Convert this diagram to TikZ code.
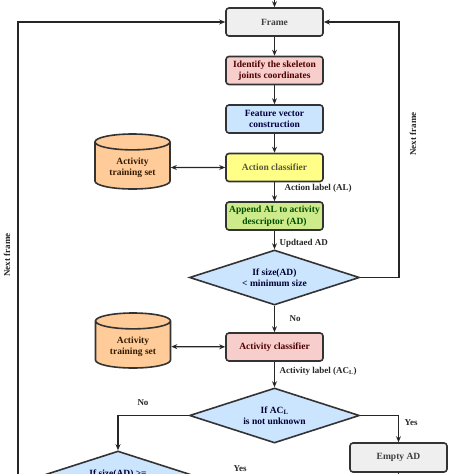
\documentclass[tikz,border=0pt]{standalone}
\usepackage{fontspec}
\setmainfont{Liberation Serif}
\usepackage{tikz}
\usetikzlibrary{arrows.meta, positioning, shapes.geometric}

\definecolor{framegray}{HTML}{EFEFEF}
\definecolor{idpink}{HTML}{F8CECC}
\definecolor{featblue}{HTML}{CCE5FF}
\definecolor{actyellow}{HTML}{FFFF88}
\definecolor{appgreen}{HTML}{CDEB8B}
\definecolor{dbor}{HTML}{FFCC99}
\definecolor{edgegray}{HTML}{333333}

\tikzset{
    box/.style={draw=edgegray, line width=1.6pt, rounded corners=3pt, minimum width=97pt, minimum height=28pt, align=center, inner sep=1pt},
    decision/.style={draw=edgegray, line width=1.6pt, diamond, aspect=3.1, minimum width=170pt, minimum height=55pt, inner sep=0pt, align=center, fill=featblue, text=black!80!blue},
    database/.style={draw=edgegray, line width=1.6pt, cylinder, shape border rotate=90, aspect=0.3, minimum width=75pt, minimum height=55pt, align=center, fill=dbor, text=black!80!orange},
    flow/.style={-{Stealth[length=6pt, width=5pt]}, line width=1.2pt, draw=black!85},
    lbl/.style={font=\fontsize{9}{11}\selectfont\bfseries, text=black!85}
}

\begin{document}
\begin{tikzpicture}[x=1pt, y=-1pt, font=\fontsize{9.5}{11.5}\selectfont\bfseries]
    \useasboundingbox (0,0) rectangle (474,474);
    \clip (0,0) rectangle (474,474);

    % main column
    \node[box, fill=framegray, text=black!75] (frame) at (274.5,22) {Frame};
    \node[box, fill=idpink, text=black!70!red] (ident) at (274.5,70.5) {Identify the skeleton\\joints coordinates};
    \node[box, fill=featblue, text=black!75!blue] (feat) at (274.5,119) {Feature vector\\construction};
    \node[box, fill=actyellow, text=black!75!yellow] (action) at (274.5,167.5) {Action classifier};
    \node[box, fill=appgreen, text=black!70!green] (append) at (274.5,216) {Append AL to activity\\descriptor (AD)};
    \node[decision] (size1) at (274.5,277.5) {If size(AD)\\< minimum size};
    \node[box, fill=idpink, text=black!70!red] (activity) at (274.5,347) {Activity classifier};
    \node[decision] (unknown) at (274.5,415.5) {If AC\textsubscript{L}\\is not unknown};
    \node[box, fill=framegray, text=black!75, minimum height=29pt] (empty) at (398.5,457.5) {Empty AD};
    \node[decision] (size2) at (118,478.5) {If size(AD) >=\\minimum size};

    % training sets
    \node[database] (train1) at (132.5,167.5) {Activity\\training set};
    \node[database] (train2) at (133,346.5) {Activity\\training set};

    % free ends
    \coordinate (top) at (274.5,-2);
    \coordinate (leftin) at (18,480);
    \coordinate (emptyout) at (398.5,480);

    % arrows down the column
    \draw[flow] (top) -- (frame);
    \foreach \a/\b in {frame/ident, ident/feat, feat/action, action/append, append/size1, size1/activity, activity/unknown} {
        \draw[flow] (\a) -- (\b);
    }
    \draw[line width=1.2pt, draw=black!85] (empty) -- (emptyout);

    % database links
    \draw[{Stealth[length=6pt, width=5pt]}-{Stealth[length=6pt, width=5pt]}, line width=1.2pt, draw=black!85] (train1) -- (action);
    \draw[{Stealth[length=6pt, width=5pt]}-{Stealth[length=6pt, width=5pt]}, line width=1.2pt, draw=black!85] (train2) -- (activity);

    % loops
    \draw[flow] (size1.east) -| (399,40) |- (frame.east);
    \draw[flow] (leftin) |- (frame.west);
    \draw[flow] (unknown.west) -| (size2.north);
    \draw[flow] (unknown.east) -| (empty.north);

    % labels
    \node[lbl, anchor=west] (lal) at (281,188) {Action label (AL)};
    \node[lbl, anchor=west] (lupd) at (276,243) {Updtaed AD};
    \node[lbl] (lno1) at (295,319) {No};
    \node[lbl, anchor=west] (lacl) at (276,371) {Activity label (AC\textsubscript{L})};
    \node[lbl] (lno2) at (143,403) {No};
    \node[lbl] (lyes1) at (411,423) {Yes};
    \node[lbl] (lyes2) at (240,469) {Yes};
    \node[lbl, rotate=90] (lnext1) at (413,134) {Next frame};
    \node[lbl, rotate=90] (lnext2) at (7,255) {Next frame};
\end{tikzpicture}
\end{document}
